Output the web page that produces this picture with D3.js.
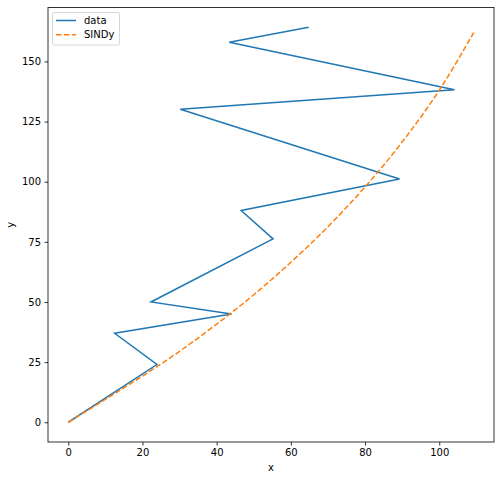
<!DOCTYPE html>
<html><head><meta charset="utf-8">
<script src="https://cdn.jsdelivr.net/npm/d3@7"></script>
<style>body{margin:0;background:#fff}svg{font-family:"DejaVu Sans",sans-serif}</style>
</head><body><svg id="c" width="500" height="480"></svg>
<script>
const dataX = [0, 23.9, 12.5, 44, 22.3, 55.2, 46.6, 89.3, 30.2, 104.1, 43.4, 64.8];
const dataY = [0, 24, 37, 45, 50, 76.2, 88, 101.1, 130.1, 138.2, 158, 164.2];
const sindyX = [0, 10, 20, 30, 40, 50, 60, 70, 80, 90, 100, 109.3];
const sindyY = [0, 9.5, 19.2, 29.5, 40.8, 53, 66.5, 81.3, 97.8, 116.5, 138, 162];
const xTicks = [0, 20, 40, 60, 80, 100];
const yTicks = [0, 25, 50, 75, 100, 125, 150];
const seriesNames = ["data", "SINDy"];
const colors = ["#1f77b4", "#ff7f0e"];

const L = 48, R = 494, T = 7.5, B = 442;
const xs = d3.scaleLinear().domain([-5.465, 114.765]).range([L, R]);
const ys = d3.scaleLinear().domain([-8.21, 172.41]).range([B, T]);
const svg = d3.select("#c");

const line = d3.line().x(d => xs(d[0])).y(d => ys(d[1]));
const dataPts = dataX.map((x, i) => [x, dataY[i]]);
const sindyPts = sindyX.map((x, i) => [x, sindyY[i]]);
const curve = d3.line().x(d => xs(d[0])).y(d => ys(d[1])).curve(d3.curveMonotoneX);

svg.append("path").attr("d", line(dataPts)).attr("fill", "none")
  .attr("stroke", colors[0]).attr("stroke-width", 1.5).attr("stroke-linejoin", "miter");
svg.append("path").attr("d", curve(sindyPts)).attr("fill", "none")
  .attr("stroke", colors[1]).attr("stroke-width", 1.5).attr("stroke-dasharray", "5.55,2.4");

const xa = svg.append("g").attr("transform", `translate(0,${B})`)
  .call(d3.axisBottom(xs).tickValues(xTicks).tickSize(3.5).tickPadding(3.5));
const ya = svg.append("g").attr("transform", `translate(${L},0)`)
  .call(d3.axisLeft(ys).tickValues(yTicks).tickSize(3.5).tickPadding(3.5));
[xa, ya].forEach(a => {
  a.select(".domain").remove();
  a.selectAll("line").attr("stroke", "#000").attr("stroke-width", 0.8);
  a.selectAll("text").attr("font-size", 10).attr("fill", "#000").attr("font-family", "DejaVu Sans");
});
svg.append("rect").attr("x", L).attr("y", T).attr("width", R - L).attr("height", B - T)
  .attr("fill", "none").attr("stroke", "#000").attr("stroke-width", 0.8);

svg.append("text").attr("x", (L + R) / 2).attr("y", 471).attr("text-anchor", "middle")
  .attr("font-size", 10).text("x");
svg.append("text").attr("transform", `translate(14,${(T + B) / 2}) rotate(-90)`)
  .attr("text-anchor", "middle").attr("font-size", 10).text("y");

const lg = svg.append("g");
lg.append("rect").attr("x", 52.5).attr("y", 12.5).attr("width", 67).attr("height", 32.5)
  .attr("rx", 2).attr("fill", "#fff").attr("fill-opacity", 0.8)
  .attr("stroke", "#cccccc").attr("stroke-width", 0.8);
seriesNames.forEach((n, i) => {
  const yy = 20.5 + i * 14.3;
  lg.append("line").attr("x1", 56).attr("x2", 76).attr("y1", yy).attr("y2", yy)
    .attr("stroke", colors[i]).attr("stroke-width", 1.5)
    .attr("stroke-dasharray", i === 1 ? "5.55,2.4" : null);
  lg.append("text").attr("x", 84).attr("y", yy + 3.6).attr("font-size", 10).text(n);
});
</script></body></html>
